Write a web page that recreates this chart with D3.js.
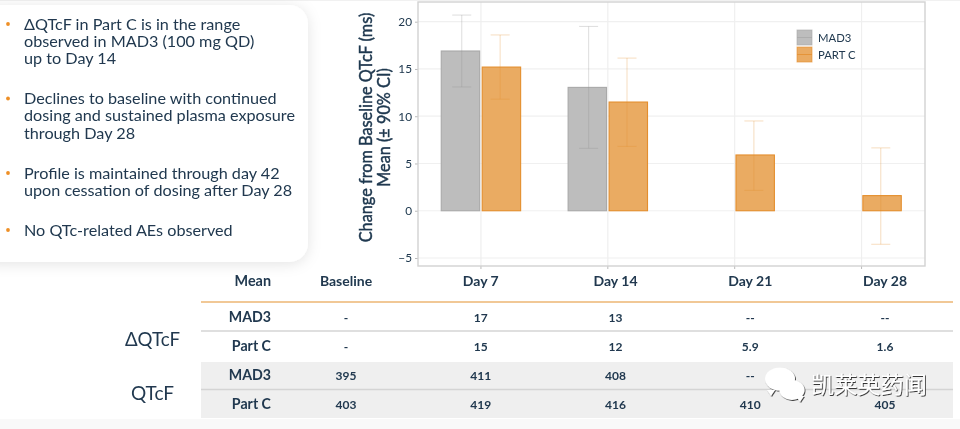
<!DOCTYPE html>
<html><head><meta charset="utf-8">
<script src="https://cdn.jsdelivr.net/npm/d3@7/dist/d3.min.js"></script>
<style>
html,body{margin:0;padding:0;background:#fff;overflow:hidden}
svg{display:block}
text{font-family:Lato,"Open Sans",sans-serif;fill:#20394f}
</style></head><body>
<div id="chart"></div>
<script>
const days = ["Day 7","Day 14","Day 21","Day 28"];
const seriesNames = ["MAD3","PART C"];
const mad3Mean = [16.9,13.05,null,null];
const mad3Low  = [13.1,6.6,null,null];
const mad3High = [20.7,19.5,null,null];
const partCMean = [15.2,11.5,5.9,1.6];
const partCLow  = [11.8,6.8,2.15,-3.55];
const partCHigh = [18.6,16.15,9.5,6.65];
const yTicks = [-5,0,5,10,15,20];
const bullets = [
  ["ΔQTcF in Part C is in the range","observed in MAD3 (100 mg QD)","up to Day 14"],
  ["Declines to baseline with continued","dosing and sustained plasma exposure","through Day 28"],
  ["Profile is maintained through day 42","upon cessation of dosing after Day 28"],
  ["No QTc-related AEs observed"]
];
const tableCols = ["Baseline","Day 7","Day 14","Day 21","Day 28"];
const rowLabels = ["MAD3","Part C","MAD3","Part C"];
const rowValues = [
  ["-","17","13","--","--"],
  ["-","15","12","5.9","1.6"],
  ["395","411","408","--",""],
  ["403","419","416","410","405"]
];
const groupLabels = ["ΔQTcF","QTcF"];

const W=960,H=429;
const svg=d3.select("#chart").append("svg").attr("width",W).attr("height",H);
const defs=svg.append("defs");
const sh=defs.append("filter").attr("id","sh").attr("x","-20%").attr("y","-20%").attr("width","140%").attr("height","140%");
sh.append("feDropShadow").attr("dx",0).attr("dy",2).attr("stdDeviation",7).attr("flood-color","#000").attr("flood-opacity",0.11);
const soft=defs.append("filter").attr("id","soft").attr("x","-5%").attr("y","-5%").attr("width","110%").attr("height","110%");
soft.append("feGaussianBlur").attr("stdDeviation",0.4);
const wm=defs.append("filter").attr("id","wm").attr("x","-10%").attr("y","-20%").attr("width","120%").attr("height","140%");
wm.append("feDropShadow").attr("dx",0.8).attr("dy",0.9).attr("stdDeviation",0.5).attr("flood-color","#222").attr("flood-opacity",1);

const root=svg.append("g").attr("filter","url(#soft)");
root.append("rect").attr("x",0).attr("y",0).attr("width",W).attr("height",1).attr("fill","#f1f1f1");
root.append("rect").attr("x",0).attr("y",419).attr("width",W).attr("height",10).attr("fill","#f9f9f9");

// bullet card
root.append("rect").attr("x",-24).attr("y",5).attr("width",332).attr("height",257).attr("rx",19)
  .attr("fill","#fff").attr("filter","url(#sh)");
const lineH=17.4;
const blockY=[24,98.5,173,230];
bullets.forEach((b,i)=>{
  root.append("circle").attr("cx",8).attr("cy",blockY[i]).attr("r",1.9).attr("fill","#ee8f25");
  b.forEach((l,j)=>root.append("text").attr("x",24).attr("y",blockY[i]+5.5+j*lineH)
    .attr("font-size",16.2).attr("fill","#33485c").text(l));
});

// plot
const P={l:418,r:925,t:2,b:266};
const x=d3.scaleBand().domain(days).range([417.5,925]).padding(0);
const y=d3.scaleLinear().domain([-5,20]).range([258,21.7]);
const plot=root.append("g");
plot.append("rect").attr("x",P.l).attr("y",P.t).attr("width",P.r-P.l).attr("height",P.b-P.t)
  .attr("fill","#fff");
const yAxis=d3.axisLeft(y).tickValues(yTicks).tickSize(3).tickPadding(3);
const gy=plot.append("g").attr("transform",`translate(${P.l},0)`).call(yAxis);
gy.select(".domain").remove();
gy.selectAll("line").attr("stroke","#bbb");
gy.selectAll("text").attr("font-size",11.8).attr("fill","#5d6b78");
plot.selectAll(".gh").data(yTicks).join("line").attr("x1",P.l).attr("x2",P.r)
  .attr("y1",d=>y(d)).attr("y2",d=>y(d)).attr("stroke","#f0f0f0").attr("stroke-width",1.2);
const cx=d=>x(d)+x.bandwidth()/2;
plot.selectAll(".gv").data(days).join("line").attr("x1",cx).attr("x2",cx)
  .attr("y1",P.t).attr("y2",P.b).attr("stroke","#efefef").attr("stroke-width",1.2);
plot.selectAll(".tk").data(days).join("line").attr("x1",cx).attr("x2",cx)
  .attr("y1",P.b).attr("y2",P.b+3).attr("stroke","#bbb");

const barW=38.4,gap=2.6,errOff=19.2;
const colors=[{fill:"#bdbdbd",stroke:"#a9a9a9"},{fill:"#eaab62",stroke:"#e48e2d"}];
const series=[
  {name:seriesNames[0],mean:mad3Mean,low:mad3Low,high:mad3High,off:-barW-gap/2,eo:-errOff,c:colors[0],e:"#8f8f8f"},
  {name:seriesNames[1],mean:partCMean,low:partCLow,high:partCHigh,off:gap/2,eo:errOff,c:colors[1],e:"#e48e2d"}
];
series.forEach(s=>{
  days.forEach((d,i)=>{
    if(s.mean[i]==null) return;
    const x0=cx(d)+s.off, top=y(s.mean[i]);
    plot.append("rect").attr("x",x0).attr("y",top).attr("width",barW)
      .attr("height",y(0)-top).attr("fill",s.c.fill).attr("stroke",s.c.stroke).attr("stroke-width",1.1);
  });
});
series.forEach(s=>{
  days.forEach((d,i)=>{
    if(s.mean[i]==null) return;
    const mx=cx(d)+s.eo;
    const yh=y(s.high[i]),yl=y(s.low[i]);
    const g=plot.append("g").attr("stroke",s.e).attr("stroke-opacity",0.28).attr("stroke-width",1.1);
    g.append("line").attr("x1",mx).attr("x2",mx).attr("y1",yh).attr("y2",yl);
    g.append("line").attr("x1",mx-9.5).attr("x2",mx+9.5).attr("y1",yh).attr("y2",yh);
    g.append("line").attr("x1",mx-9.5).attr("x2",mx+9.5).attr("y1",yl).attr("y2",yl);
  });
});
plot.append("rect").attr("x",P.l).attr("y",P.t).attr("width",P.r-P.l).attr("height",P.b-P.t)
  .attr("fill","none").attr("stroke","#d2d2d2").attr("stroke-width",1.4);

// legend
series.forEach((s,i)=>{
  const ly=30+i*17;
  plot.append("rect").attr("x",797).attr("y",ly).attr("width",15).attr("height",15)
    .attr("fill",s.c.fill).attr("stroke",s.c.stroke).attr("stroke-opacity",.6);
  plot.append("line").attr("x1",797).attr("x2",812).attr("y1",ly+7.5).attr("y2",ly+7.5)
    .attr("stroke",s.c.stroke).attr("stroke-opacity",.8);
  plot.append("text").attr("x",818).attr("y",ly+11.5).attr("font-size",11.3).attr("fill","#3d5064").text(s.name);
});

// y title
const yt=root.append("text").attr("transform","translate(372,127.5) rotate(-90)").attr("text-anchor","middle")
  .attr("font-size",16.3).attr("stroke","#1f3850").attr("stroke-width",.45).attr("fill","#1f3850");
yt.append("tspan").attr("x",0).attr("y",0).text("Change from Baseline QTcF (ms)");
yt.append("tspan").attr("x",0).attr("y",17.5).text("Mean (± 90% CI)");

// table
const colX=d3.scalePoint().domain(tableCols).range([346,885]);
const rowY=[317,346,375,404];
root.append("rect").attr("x",201).attr("y",362).attr("width",752).attr("height",56).attr("fill","#efefef");
root.append("line").attr("x1",201).attr("x2",953).attr("y1",302).attr("y2",302).attr("stroke","#ecb675").attr("stroke-width",1.6);
[331,389.5].forEach(v=>root.append("line").attr("x1",201).attr("x2",953).attr("y1",v).attr("y2",v).attr("stroke","#d4d4d4").attr("stroke-width",1.3));
root.append("text").attr("x",271).attr("y",286).attr("text-anchor","end").attr("font-size",14.4).attr("font-weight",700).text("Mean");
tableCols.forEach(c=>root.append("text").attr("x",colX(c)).attr("y",286).attr("text-anchor","middle")
  .attr("font-size",14).attr("font-weight",700).text(c));
rowLabels.forEach((r,i)=>root.append("text").attr("x",271).attr("y",rowY[i]+5).attr("text-anchor","end")
  .attr("font-size",14.2).attr("font-weight",700).text(r));
rowValues.forEach((vals,i)=>vals.forEach((v,j)=>{
  if(v==="") return;
  root.append("text").attr("x",colX(tableCols[j])).attr("y",rowY[i]+4.5).attr("text-anchor","middle")
    .attr("font-size",12).attr("font-weight",700).text(v);
}));
root.append("text").attr("x",152.5).attr("y",346).attr("text-anchor","middle").attr("font-size",18.7).attr("fill","#33485c").text(groupLabels[0]);
root.append("text").attr("x",152.5).attr("y",400).attr("text-anchor","middle").attr("font-size",19).attr("fill","#33485c").text(groupLabels[1]);

// watermark
const w=svg.append("g").attr("filter","url(#wm)");
const bub=(cx,cy,rx,ry,tx,ty)=>{
  w.append("path").attr("d",`M${tx-4},${ty-6}L${tx},${ty}L${tx+4},${ty-6}Z`).attr("fill","#fff");
  w.append("ellipse").attr("cx",cx).attr("cy",cy).attr("rx",rx).attr("ry",ry).attr("fill","#fff");
};
bub(780,379,15,11.5,771,396);
bub(792,390,12.5,10,800,402);
w.append("text").attr("x",811).attr("y",393).attr("font-size",23.2)
  .style("font-family","'Noto Sans CJK SC'").style("fill","#fff").text("凯莱英药闻");
</script>
</body></html>
